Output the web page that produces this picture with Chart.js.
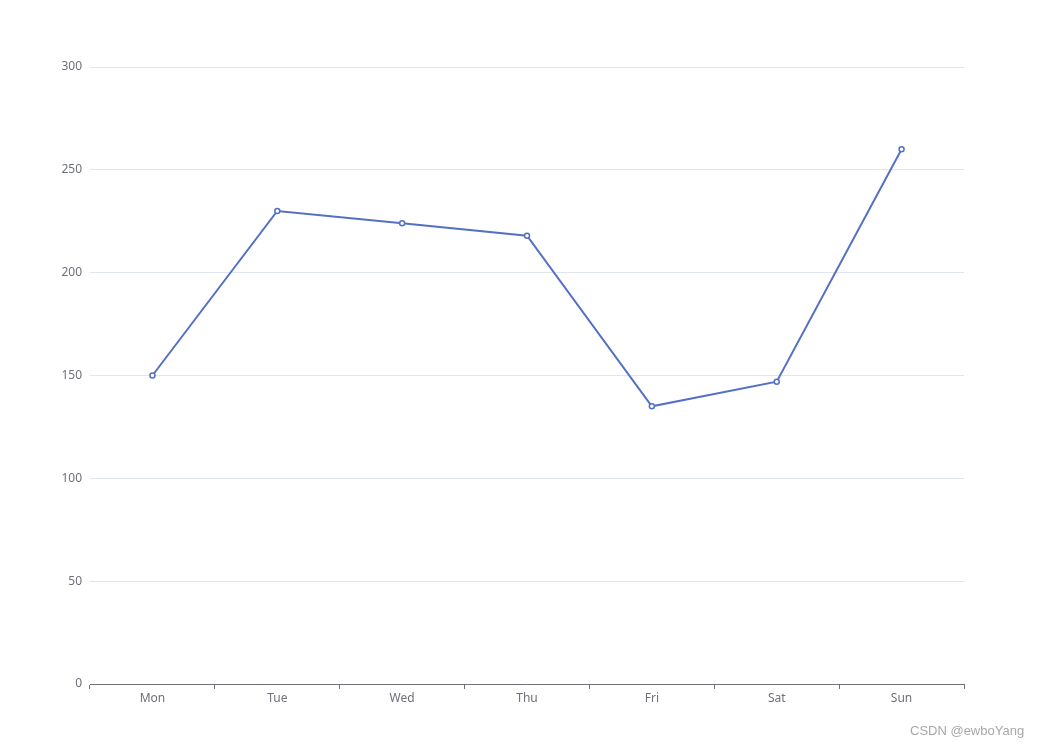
<!DOCTYPE html>
<html>
<head>
<meta charset="utf-8">
<script src="https://cdn.jsdelivr.net/npm/chart.js@4/dist/chart.umd.min.js"></script>
<style>
  html, body { margin: 0; padding: 0; background: #fff; }
  #wrap { position: relative; width: 1040px; height: 748px; }
  #c { display: block; }
  #wm { position: absolute; left: 910px; top: 723px; font: 13px "Liberation Sans", Arial, sans-serif; color: #a8a8a8; white-space: nowrap; }
</style>
</head>
<body>
<div id="wrap">
  <canvas id="c" width="1040" height="748"></canvas>
  <div id="wm">CSDN @ewboYang</div>
</div>
<script>
const categories = ['Mon', 'Tue', 'Wed', 'Thu', 'Fri', 'Sat', 'Sun'];
const seriesValues = [150, 230, 224, 218, 135, 147, 260];
const yTicks = [0, 50, 100, 150, 200, 250, 300];

const labelFont = { family: '"Noto Sans", "DejaVu Sans", sans-serif', size: 12 };

new Chart(document.getElementById('c'), {
  type: 'line',
  data: {
    labels: categories,
    datasets: [{
      data: seriesValues,
      borderColor: '#5470C6',
      borderWidth: 2,
      tension: 0,
      fill: false,
      pointRadius: 2.5,
      pointBorderWidth: 1.5,
      pointBackgroundColor: '#ffffff',
      pointBorderColor: '#5470C6'
    }]
  },
  options: {
    responsive: false,
    animation: false,
    layout: { padding: { left: 0, right: 76, top: 67, bottom: 0 } },
    plugins: { legend: { display: false }, tooltip: { enabled: false } },
    scales: {
      x: {
        type: 'category',
        offset: true,
        border: { display: true, color: '#6E7079', width: 1 },
        grid: { offset: true, drawOnChartArea: false, drawTicks: true, tickLength: 5, color: '#6E7079' },
        ticks: { color: '#6E7079', font: labelFont, padding: 2, maxRotation: 0, autoSkip: false },
        afterFit: (s) => { s.height = 64; }
      },
      y: {
        min: 0,
        max: 300,
        afterBuildTicks: (s) => { s.ticks = yTicks.map(v => ({ value: v })); },
        border: { display: false },
        grid: { color: '#E0E6F1', drawTicks: false, lineWidth: 1 },
        ticks: { color: '#6E7079', font: labelFont, padding: 8 },
        afterFit: (s) => { s.width = 90; }
      }
    }
  }
});
</script>
</body>
</html>
